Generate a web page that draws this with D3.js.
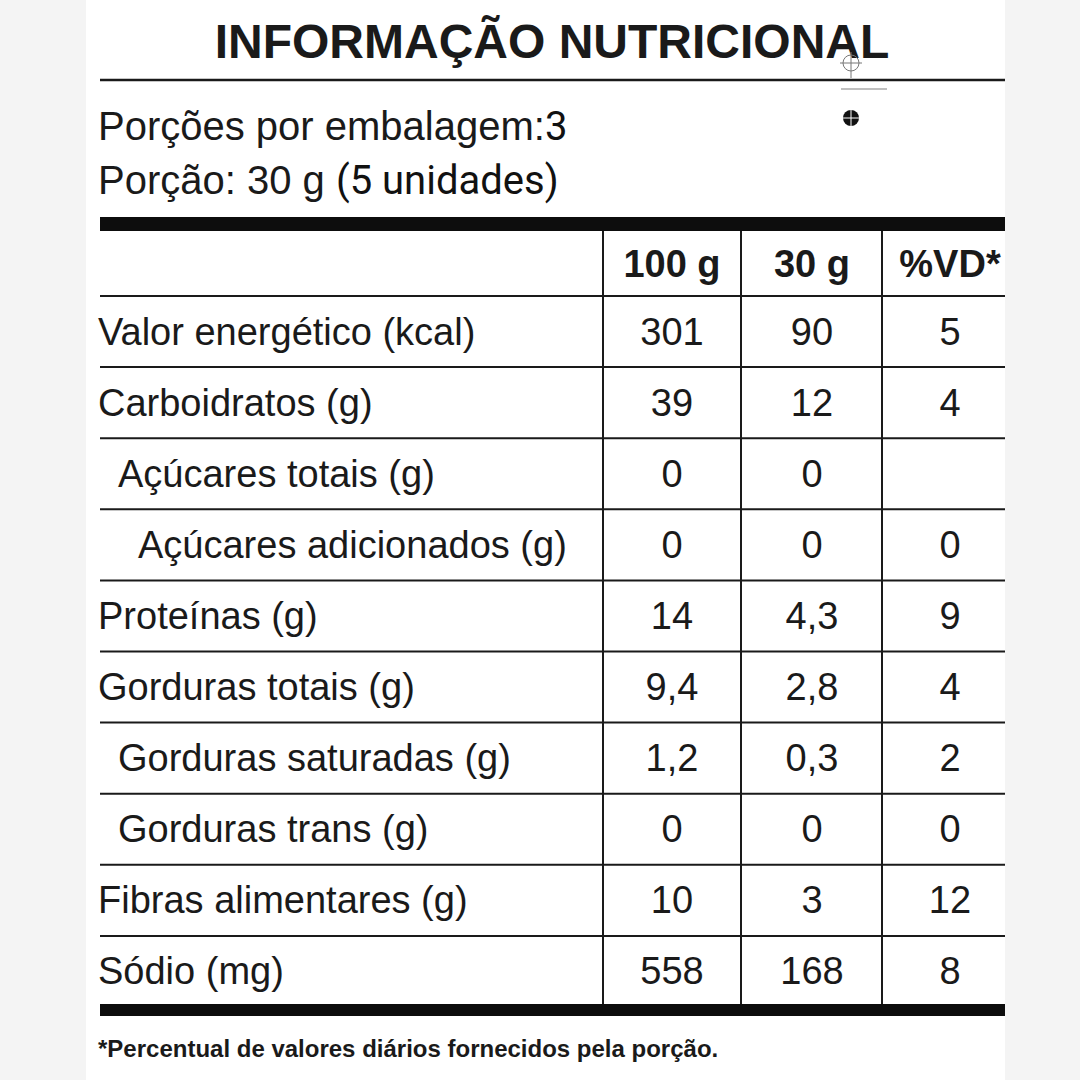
<!DOCTYPE html>
<html><head><meta charset="utf-8">
<script src="https://cdn.jsdelivr.net/npm/d3@7"></script>
<style>body{margin:0;background:#f4f4f4}</style>
</head><body><div id="chart"></div>
<script>
const rowLabels = ["Valor energético (kcal)", "Carboidratos (g)", "Açúcares totais (g)", "Açúcares adicionados (g)", "Proteínas (g)", "Gorduras totais (g)", "Gorduras saturadas (g)", "Gorduras trans (g)", "Fibras alimentares (g)", "Sódio (mg)"];
const indentLevel = [0, 0, 1, 2, 0, 0, 1, 1, 0, 0];
const per100g = ["301", "39", "0", "0", "14", "9,4", "1,2", "0", "10", "558"];
const per30g = ["90", "12", "0", "0", "4,3", "2,8", "0,3", "0", "3", "168"];
const vd = ["5", "4", "", "0", "9", "4", "2", "0", "12", "8"];
const headers = ["100 g", "30 g", "%VD*"];

const W = 1080, H = 1080;
const narrow = "'Liberation Sans Narrow', 'Arial Narrow', 'Liberation Sans', Arial, sans-serif";
const ink = "#1a1a1a";

const svg = d3.select("#chart").append("svg").attr("width", W).attr("height", H);
svg.append("rect").attr("width", W).attr("height", H).attr("fill", "#f4f4f4");
svg.append("rect").attr("x", 86).attr("width", 919).attr("height", H).attr("fill", "#fff");

const left = 100, right = 1005;
const colEdges = [603, 741, 882, right];

// title
svg.append("text").attr("x", 552).attr("y", 58).attr("text-anchor", "middle")
  .attr("font-family", narrow).attr("font-weight", "bold").attr("font-size", 48).attr("fill", ink)
  .text("INFORMAÇÃO NUTRICIONAL");
svg.append("line").attr("x1", left).attr("x2", right).attr("y1", 80).attr("y2", 80).attr("stroke", ink).attr("stroke-width", 2.5);

// small registration marks
svg.append("circle").attr("cx", 851).attr("cy", 63).attr("r", 8).attr("fill", "none").attr("stroke", "#777");
svg.append("path").attr("d", "M851,52V78M840,63H862").attr("stroke", "#777");
svg.append("line").attr("x1", 841).attr("x2", 887).attr("y1", 89).attr("y2", 89).attr("stroke", "#aaa").attr("stroke-width", 1.5);
svg.append("circle").attr("cx", 851).attr("cy", 118).attr("r", 8).attr("fill", "#111");
svg.append("path").attr("d", "M851,109V127M842,118H860").attr("stroke", "#fff").attr("stroke-width", 1);

const t1 = svg.append("text").attr("x", 98).attr("y", 140).attr("fill", ink);
t1.append("tspan").attr("font-family", narrow).attr("font-size", 40).text("Porções por embalagem:");
t1.append("tspan").attr("font-family", "Roboto, sans-serif").attr("font-size", 40).attr("fill", "#111").text("3");
const t2 = svg.append("text").attr("x", 98).attr("y", 194).attr("fill", ink);
t2.append("tspan").attr("font-family", narrow).attr("font-size", 40).text("Porção: 30 g ");
t2.append("tspan").attr("font-family", "Roboto, sans-serif").attr("font-size", 40).attr("fill", "#111").text("(5 unidades)");

svg.append("rect").attr("x", left).attr("width", right - left).attr("y", 217).attr("height", 14).attr("fill", "#0d0d0d");

// rows
const y = d3.scaleBand().domain(d3.range(rowLabels.length)).range([296, 1007]);
const colCenters = [672, 812, 950];

svg.append("g").selectAll("text").data(headers).join("text")
  .attr("x", (d, i) => colCenters[i]).attr("y", 277).attr("text-anchor", "middle")
  .attr("font-family", narrow).attr("font-weight", "bold").attr("font-size", 38).attr("fill", ink).text(d => d);

svg.append("g").selectAll("line").data(d3.range(rowLabels.length)).join("line")
  .attr("x1", left).attr("x2", right).attr("y1", i => y(i)).attr("y2", i => y(i))
  .attr("stroke", ink).attr("stroke-width", 2);
svg.append("rect").attr("x", left).attr("width", right - left).attr("y", 1004).attr("height", 12).attr("fill", "#0d0d0d");
svg.append("g").selectAll("line").data(colEdges.slice(0, 3)).join("line")
  .attr("x1", d => d).attr("x2", d => d).attr("y1", 231).attr("y2", 1004).attr("stroke", ink).attr("stroke-width", 2);

const rows = svg.append("g").selectAll("g").data(d3.range(rowLabels.length)).join("g")
  .attr("transform", i => `translate(0,${y(i) + y.bandwidth() / 2 + 13})`)
  .attr("font-family", narrow).attr("font-size", 38).attr("fill", ink);
rows.append("text").attr("x", i => 98 + indentLevel[i] * 20).text(i => rowLabels[i]);
[per100g, per30g, vd].forEach((col, c) => {
  rows.append("text").attr("x", colCenters[c]).attr("text-anchor", "middle").text(i => col[i]);
});

svg.append("text").attr("x", 98).attr("y", 1057).attr("font-family", narrow).attr("font-weight", "bold")
  .attr("font-size", 24).attr("fill", ink).text("*Percentual de valores diários fornecidos pela porção.");
</script></body></html>
